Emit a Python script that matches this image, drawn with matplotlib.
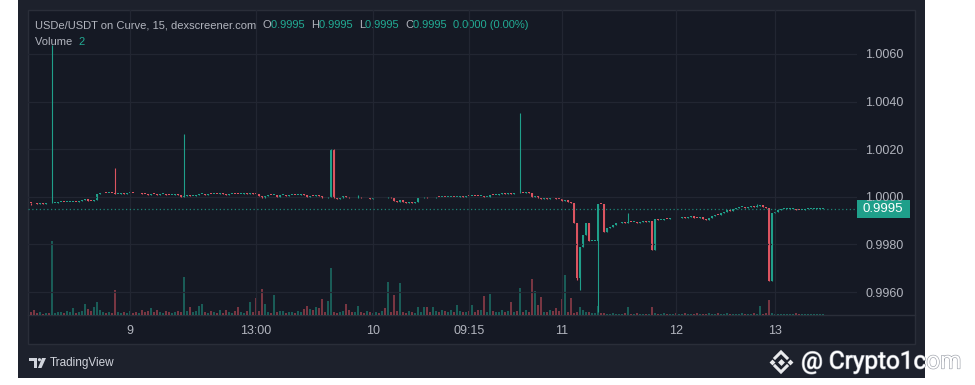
import matplotlib
matplotlib.use("Agg")
import matplotlib.pyplot as plt
from matplotlib.patches import Rectangle, Polygon, Circle
import matplotlib.patheffects as pe

plt.rcParams['font.family'] = ['Liberation Sans', 'DejaVu Sans']

# ========= DATA =========
# 15 min closes, in units of 1e-4 (10000 = 1.0000); open = previous close
close_bp = [
    9997.4, 9997.2, 9997.0, 9997.2, 9997.1, 9997.3, 9997.2, 9997.6, 9997.6, 9997.8,
    9997.8, 9997.7, 9997.9, 9997.9, 9998.0, 9997.9, 9998.1, 9998.7, 9998.9, 9998.4,
    9998.3, 9998.8, 10001.3, 10001.4, 10001.6, 10001.5, 10001.7, 10001.5, 10001.2, 10001.3,
    10001.4, 10001.2, 10001.5, 10001.8, 10001.6, 10001.4, 10001.5, 10001.3, 10001.1, 10000.9,
    10001.2, 10001.0, 10000.8, 10001.1, 10001.3, 10000.9, 10000.7, 10000.9, 10001.0, 10000.8,
    9999.9, 10000.4, 10000.6, 10000.3, 10000.5, 10000.8, 10001.0, 10001.1, 10000.9, 10001.2,
    10001.0, 10001.3, 10001.1, 10001.4, 10001.2, 10000.9, 10001.1, 10001.3, 10001.2, 10001.0,
    10001.2, 10001.4, 10001.2, 10001.5, 10001.3, 10001.1, 10000.3, 9999.6, 10000.4, 10000.8,
    10000.6, 10000.9, 10000.1, 10000.6, 10000.8, 10000.5, 10000.7, 10000.9, 10000.6, 10000.8,
    10001.0, 10000.7, 9999.9, 10000.5, 10000.3, 10000.6, 10000.4, 9999.5, 9999.3, 9999.9,
    10020.0, 9999.4, 9999.2, 9999.5, 10000.3, 9999.8, 9999.6, 9999.5, 9999.7, 9999.9,
    9999.6, 9999.4, 9999.6, 9998.9, 9999.3, 9999.5, 9999.4, 9999.6, 9999.5, 9999.8,
    9999.7, 9998.2, 9998.0, 9998.6, 9997.9, 9997.6, 9997.8, 9997.5, 9997.7, 9999.4,
    9999.6, 9999.8, 9999.7, 9999.4, 9999.7, 9999.9, 9999.8, 10000.0, 9999.8, 9999.9,
    10000.1, 9999.9, 10000.0, 10000.2, 10000.1, 10000.3, 10000.2, 10000.4, 10000.3, 10000.2,
    10000.4, 9999.9, 10000.1, 10000.8, 10000.7, 10000.9, 10001.2, 10001.4, 10001.1, 10001.5,
    10001.3, 10001.6, 10001.4, 10001.8, 10001.5, 10001.9, 10001.6, 9999.8, 10000.2, 9999.4,
    9999.1, 9999.3, 9999.2, 9999.4, 9999.3, 9999.2, 9998.9, 9998.4, 9998.6, 9998.0,
    9997.6, 9989.1, 9965.9, 9979.0, 9984.0, 9989.1, 9981.4, 9981.4, 9981.4, 9997.1,
    9996.8, 9985.3, 9987.0, 9987.5, 9988.2, 9988.8, 9989.0, 9989.4, 9989.2, 9989.6,
    9989.3, 9989.6, 9989.1, 9989.5, 9989.8, 9989.6, 9990.0, 9977.7, 9990.6, 9990.2,
    9990.4, 9990.8, 9990.6, 9990.9, 9991.1, 9990.9, 9991.2, 9991.4, 9991.2, 9991.5,
    9991.9, 9991.2, 9991.0, 9991.6, 9990.8, 9990.1, 9991.2, 9991.8, 9992.5, 9992.4,
    9993.0, 9993.6, 9994.3, 9994.1, 9994.8, 9995.3, 9995.6, 9995.9, 9995.4, 9995.7,
    9996.1, 9995.8, 9996.2, 9996.4, 9995.8, 9995.2, 9964.6, 9993.3, 9993.8, 9994.5,
    9995.0, 9995.0, 9995.0, 9995.0, 9995.0, 9994.5, 9994.3, 9994.3, 9995.0, 9995.0,
    9995.0, 9995.0, 9995.0, 9995.0, 9995.0,
]
first_open_bp = 9997.5

# wick extremes that go beyond the bodies
high_bars = [7, 28, 51, 109, 163, 199, 242]
high_bp = [10063.8, 10012.1, 10026.4, 10000.6, 10035.2, 9993.3, 9997.0]
low_bars = [0, 182, 183, 189]
low_bp = [9996.5, 9965.1, 9960.9, 9951.6]

volume = [
    3, 5, 2, 3, 1, 2, 2, 74, 2, 3,
    3, 2, 4, 3, 7, 2, 3, 4, 11, 6,
    4, 8, 13, 5, 3, 2, 3, 2, 25, 3,
    2, 3, 2, 4, 2, 3, 2, 5, 3, 4,
    7, 3, 5, 3, 2, 4, 3, 2, 3, 4,
    3, 38, 4, 8, 3, 4, 9, 11, 3, 2,
    4, 3, 2, 5, 2, 5, 3, 2, 4, 8,
    3, 2, 4, 13, 3, 17, 4, 26, 11, 3,
    2, 20, 3, 4, 4, 2, 3, 3, 2, 4,
    3, 6, 9, 6, 5, 8, 7, 16, 3, 14,
    47, 3, 2, 3, 4, 11, 5, 3, 3, 9,
    3, 2, 4, 3, 2, 3, 2, 4, 7, 33,
    3, 20, 4, 32, 3, 2, 4, 3, 2, 8,
    3, 8, 8, 3, 8, 4, 3, 5, 4, 3,
    5, 3, 10, 4, 3, 3, 4, 10, 3, 5,
    5, 19, 3, 21, 4, 3, 3, 5, 3, 4,
    13, 3, 4, 27, 3, 5, 3, 36, 24, 10,
    18, 3, 3, 5, 4, 7, 4, 16, 40, 3,
    17, 2, 3, 8, 5, 3, 3, 2, 2, 9,
    2, 2, 1, 1, 2, 1, 1, 1, 2, 8,
    1, 1, 2, 1, 1, 1, 1, 8, 2, 1,
    1, 2, 1, 1, 1, 2, 1, 1, 2, 1,
    1, 1, 2, 1, 1, 1, 2, 1, 1, 2,
    1, 1, 2, 1, 1, 1, 1, 2, 1, 1,
    1, 2, 1, 9, 1, 2, 15, 2, 1, 1,
    1, 1, 1, 1, 1, 2, 1, 1, 1, 1,
    1, 1, 1, 1, 1,
]

price_ticks = [0.9960, 0.9980, 1.0000, 1.0020, 1.0040, 1.0060]
time_tick_bars = [33, 75, 114, 146, 177, 215, 248]
time_tick_labels = ["9", "13:00", "10", "09:15", "11", "12", "13"]
last_price = 0.9995

# ========= STYLE =========
W, H = 975, 385
OUTER_BG = "#1d212c"
INNER_BG = "#151924"
BORDER = "#2a2e39"
GRID = "#222632"
TEXT = "#b2b5be"
UP = "#1f9f8a"
DOWN = "#dc5460"
TEAL = "#22ab94"

n = len(close_bp)
closes = [c / 10000 for c in close_bp]
opens = [first_open_bp / 10000] + closes[:-1]
highs = [max(o, c) for o, c in zip(opens, closes)]
lows = [min(o, c) for o, c in zip(opens, closes)]
for i, h in zip(high_bars, high_bp):
    highs[i] = max(highs[i], h / 10000)
for i, l in zip(low_bars, low_bp):
    lows[i] = min(lows[i], l / 10000)
colors = [UP if c >= o else DOWN for o, c in zip(opens, closes)]
xs = list(range(n))

fig = plt.figure(figsize=(W / 100, H / 100), dpi=100)
fig.patch.set_facecolor("white")

# ---- background / frame in pixel coordinates ----
bg = fig.add_axes([0, 0, 1, 1], zorder=0)
bg.set_xlim(0, W)
bg.set_ylim(H, 0)
bg.axis("off")
bg.add_patch(Rectangle((18, 0), 907, 378, facecolor=OUTER_BG, edgecolor="none"))
bg.add_patch(Rectangle((28, 10), 887, 334, facecolor=INNER_BG, edgecolor=BORDER, lw=1))
bg.plot([28, 915], [315, 315], color=BORDER, lw=1)

def px_rect(x0, y0, x1, y1):
    return [x0 / W, 1 - y1 / H, (x1 - x0) / W, (y1 - y0) / H]

rect = px_rect(28, 10, 857, 315)

# ---- volume (behind candles) ----
vax = fig.add_axes(rect, zorder=1)
vax.set_facecolor("none")
vax.bar(xs, volume, width=0.7, color=colors, alpha=0.5, linewidth=0)
vax.set_xlim(-1, 275.3)
vax.set_ylim(0, 305)
vax.axis("off")

# ---- candles ----
ax = fig.add_axes(rect, zorder=2)
ax.set_facecolor("none")
ax.vlines(xs, lows, highs, colors=colors, lw=0.8)
bodies = [max(abs(c - o), 0.00004) for o, c in zip(opens, closes)]
body_bottoms = [min(o, c) for o, c in zip(opens, closes)]
ax.bar(xs, bodies, bottom=body_bottoms, width=0.7, color=colors, linewidth=0)
ax.axhline(last_price, color=UP, lw=0.9, ls=(0, (1, 2)), alpha=0.8)

ax.set_xlim(-1, 275.3)
ax.set_ylim(0.995035, 1.007846)
ax.set_yticks(price_ticks)
ax.set_yticklabels([f"{t:.4f}" for t in price_ticks])
ax.set_xticks(time_tick_bars)
ax.set_xticklabels(time_tick_labels)
ax.yaxis.tick_right()
ax.tick_params(axis="y", length=0, pad=6, labelcolor=TEXT, labelsize=9)
ax.tick_params(axis="x", length=0, pad=7.5, labelcolor=TEXT, labelsize=9)
ax.grid(True, color=GRID, lw=0.9)
for s in ax.spines.values():
    s.set_visible(False)

# ---- last price label ----
bg.add_patch(Rectangle((857, 200), 53, 18, facecolor=UP, edgecolor="none", zorder=5))
bg.text(883, 209.5, "0.9995", color="white", fontsize=9.5, ha="center", va="center", zorder=6)

# ---- legend text, pieces placed one after another ----
renderer = fig.canvas.get_renderer()

def text_run(x, y, pieces, size=8.0):
    for s, c in pieces:
        t = bg.text(x, y, s, color=c, fontsize=size, va="center", ha="left")
        bb = t.get_window_extent(renderer)
        x += bb.width

text_run(35, 25, [
    ("USDe/USDT on Curve, 15, dexscreener.com  ", TEXT),
    ("O", TEXT), ("0.9995  ", TEAL),
    ("H", TEXT), ("0.9995  ", TEAL),
    ("L", TEXT), ("0.9995  ", TEAL),
    ("C", TEXT), ("0.9995  ", TEAL),
    ("0.0000 (0.00%)", TEAL),
])
text_run(35, 42, [("Volume  ", TEXT), ("2", TEAL)])

# ---- TradingView logo ----
logo_c = "#d1d4dc"
bg.add_patch(Polygon([[29, 358], [37, 358], [37, 368], [34, 368], [34, 361], [29, 361]],
                     closed=True, facecolor=logo_c, edgecolor="none"))
bg.add_patch(Circle((39.5, 359.7), 1.6, facecolor=logo_c, edgecolor="none"))
bg.add_patch(Polygon([[42, 358], [46, 358], [41.5, 368], [38, 368]],
                     closed=True, facecolor=logo_c, edgecolor="none"))
bg.text(50, 363, "TradingView", color=logo_c, fontsize=8.5, va="center", ha="left")

# ---- watermark ----
wm = "#e8e9ec"
cx, cy = 781, 362
bg.plot([cx], [cy], marker="D", ms=3.5, color=wm, mec="none")
bg.plot([cx - 9, cx + 9], [cy, cy], ls="none", marker="D", ms=3, color=wm, mec="none")
bg.plot([cx - 6, cx, cx + 6], [cy - 4, cy - 10, cy - 4], color=wm, lw=2.2, solid_joinstyle="miter")
bg.plot([cx - 6, cx, cx + 6], [cy + 4, cy + 10, cy + 4], color=wm, lw=2.2, solid_joinstyle="miter")
bg.text(801, 362, "@ Crypto1com", color="white", fontsize=17.5, va="center", ha="left",
        family=["Roboto", "DejaVu Sans"],
        path_effects=[pe.Stroke(linewidth=0.9, foreground="#9ea2ab"), pe.Normal()])

fig.savefig("out.png", dpi=100, facecolor=fig.get_facecolor())
